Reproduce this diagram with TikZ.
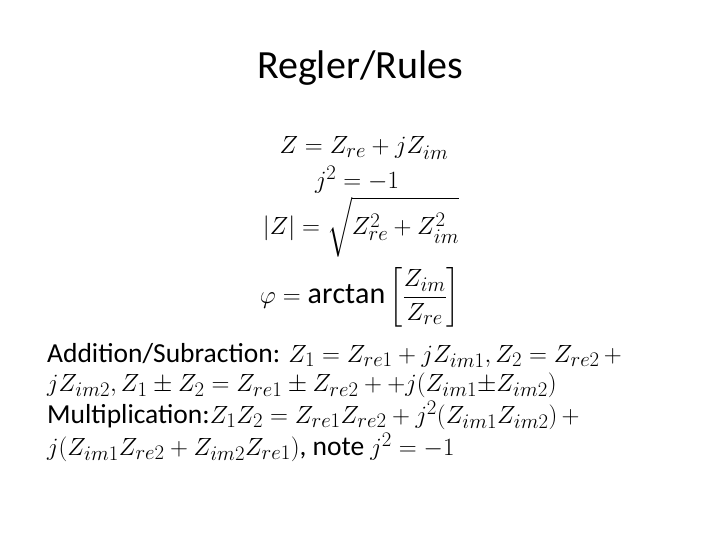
\documentclass[tikz,border=0pt]{standalone}
\usepackage{amsmath}
\usepackage{fontspec}
\setmainfont{Carlito}
\begin{document}
\begin{tikzpicture}[x=1pt,y=-1pt,
  title/.style={font=\fontsize{40}{46}\selectfont},
  eq/.style={font=\fontsize{30}{34}\selectfont,inner sep=1pt},
  body/.style={anchor=west,font=\fontsize{27.5}{32}\selectfont,inner sep=0pt}]
\useasboundingbox[fill=white] (0,0) rectangle (720,540);
\node[title] (t) at (360,68) {Regler/Rules};
\node[eq] (e1) at (364,148) {$Z = Z_{re} + jZ_{im}$};
\node[eq] (e2) at (357,180) {$j^2 = -1$};
\node[eq] (e3) at (361,227) {$|Z| = \sqrt{\vphantom{\Big|}Z_{re}^2 + Z_{im}^2}$};
\node[eq] (e4) at (360,297) {$\varphi = \arctan\left[\dfrac{Z_{im}}{Z_{re}}\right]$};
\node[body] (l1) at (47,355) {Addition/Subraction: $Z_1 = Z_{re1} + jZ_{im1}, Z_2 = Z_{re2}\,+$};
\node[body] (l2) at (47,385) {$jZ_{im2}, Z_1 \pm Z_2 = Z_{re1} \pm Z_{re2} + {+j}(Z_{im1} {\pm} Z_{im2})$};
\node[body] (l3) at (47,415) {Multiplication:$Z_1Z_2 = Z_{re1}Z_{re2} + j^2(Z_{im1}Z_{im2})\,+$};
\node[body] (l4) at (47,447) {$j(Z_{im1}Z_{re2} + Z_{im2}Z_{re1})$, note $j^2 = -1$};
\end{tikzpicture}
\end{document}
